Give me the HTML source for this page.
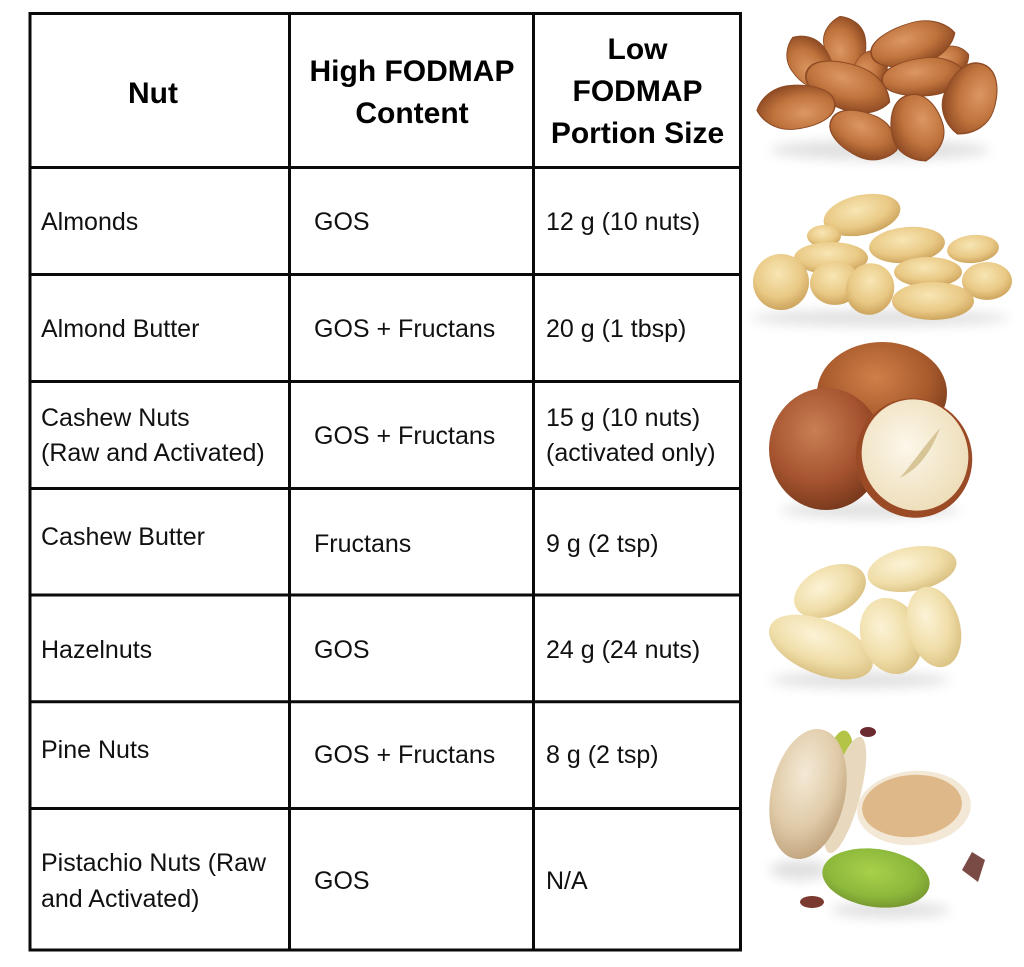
<!DOCTYPE html>
<html>
<head>
<meta charset="utf-8">
<style>
  html, body { margin:0; padding:0; background:#ffffff; }
  body { width:1024px; height:967px; position:relative; overflow:hidden;
         font-family:"Liberation Sans", sans-serif; }
  .h { position:absolute; font-weight:bold; font-size:30px; line-height:41px;
       color:#000; text-align:center; white-space:nowrap; }
  .t { position:absolute; font-size:25px; line-height:35px; color:#111;
       white-space:nowrap; }
  svg { position:absolute; left:0; top:0; }
</style>
</head>
<body>
<svg width="1024" height="967" viewBox="0 0 1024 967">
  <defs>
    <radialGradient id="almondG" cx="40%" cy="35%" r="70%">
      <stop offset="0" stop-color="#dc9763"/>
      <stop offset="0.55" stop-color="#c0743d"/>
      <stop offset="1" stop-color="#8a4621"/>
    </radialGradient>
    <radialGradient id="cashewG" cx="45%" cy="35%" r="70%">
      <stop offset="0" stop-color="#f8e6b4"/>
      <stop offset="0.6" stop-color="#e9c985"/>
      <stop offset="1" stop-color="#c79d55"/>
    </radialGradient>
    <radialGradient id="shellG" cx="45%" cy="35%" r="70%">
      <stop offset="0" stop-color="#cf8048"/>
      <stop offset="0.6" stop-color="#a85a2c"/>
      <stop offset="1" stop-color="#6e3518"/>
    </radialGradient>
    <radialGradient id="skinG" cx="40%" cy="35%" r="70%">
      <stop offset="0" stop-color="#c98055"/>
      <stop offset="0.6" stop-color="#a4532e"/>
      <stop offset="1" stop-color="#74361b"/>
    </radialGradient>
    <radialGradient id="kernelG" cx="45%" cy="40%" r="65%">
      <stop offset="0" stop-color="#fcf7ea"/>
      <stop offset="1" stop-color="#eddcb6"/>
    </radialGradient>
    <radialGradient id="pineG" cx="40%" cy="35%" r="70%">
      <stop offset="0" stop-color="#fcf3d6"/>
      <stop offset="0.6" stop-color="#f0dea9"/>
      <stop offset="1" stop-color="#d9bf80"/>
    </radialGradient>
    <radialGradient id="pistG" cx="40%" cy="35%" r="70%">
      <stop offset="0" stop-color="#f4e9d6"/>
      <stop offset="0.6" stop-color="#e0cba8"/>
      <stop offset="1" stop-color="#bfa27c"/>
    </radialGradient>
    <radialGradient id="greenG" cx="45%" cy="40%" r="70%">
      <stop offset="0" stop-color="#a8d04a"/>
      <stop offset="0.6" stop-color="#8cb83b"/>
      <stop offset="1" stop-color="#6e8a2c"/>
    </radialGradient>
    <filter id="blur" x="-50%" y="-50%" width="200%" height="200%">
      <feGaussianBlur stdDeviation="6"/>
    </filter>
    <path id="alm" d="M-1,0 C-1,-0.72 -0.35,-1 0.1,-1 C0.6,-1 0.9,-0.45 1,0 C0.9,0.45 0.6,1 0.1,1 C-0.35,1 -1,0.72 -1,0Z"/>
  </defs>

  <!-- Table lines -->
  <g stroke="#0a0a0a" stroke-width="3" fill="none">
    <rect x="30" y="13.5" width="710.5" height="936.5"/>
    <line x1="289.5" y1="13.5" x2="289.5" y2="950"/>
    <line x1="533.5" y1="13.5" x2="533.5" y2="950"/>
    <line x1="30" y1="167.5" x2="740.5" y2="167.5"/>
    <line x1="30" y1="274.5" x2="740.5" y2="274.5"/>
    <line x1="30" y1="381.5" x2="740.5" y2="381.5"/>
    <line x1="30" y1="488.5" x2="740.5" y2="488.5"/>
    <line x1="30" y1="595" x2="740.5" y2="595"/>
    <line x1="30" y1="701.7" x2="740.5" y2="701.7"/>
    <line x1="30" y1="808.5" x2="740.5" y2="808.5"/>
  </g>

  <!-- shadows -->
  <g fill="#000" opacity="0.12" filter="url(#blur)">
    <ellipse cx="880" cy="150" rx="110" ry="10"/>
    <ellipse cx="880" cy="318" rx="130" ry="8"/>
    <ellipse cx="870" cy="510" rx="90" ry="8"/>
    <ellipse cx="860" cy="680" rx="90" ry="8"/>
    <ellipse cx="800" cy="870" rx="30" ry="10"/>
    <ellipse cx="890" cy="910" rx="60" ry="8"/>
  </g>

  <!-- Almonds -->
  <g fill="url(#almondG)" stroke="#8d4a24" stroke-width="0.04">
    <use href="#alm" transform="translate(845,44) rotate(-100) scale(28,21)"/>
    <use href="#alm" transform="translate(870,70) rotate(-60) scale(22,16)"/>
    <use href="#alm" transform="translate(810,62) rotate(-125) scale(30,20)"/>
    <use href="#alm" transform="translate(948,62) rotate(-20) scale(22,15)"/>
    <use href="#alm" transform="translate(913,44) rotate(-15) scale(43,21)"/>
    <use href="#alm" transform="translate(924,77) rotate(-5) scale(42,19)"/>
    <use href="#alm" transform="translate(970,99) rotate(110) scale(37,26)"/>
    <use href="#alm" transform="translate(848,87) rotate(20) scale(44,23)"/>
    <use href="#alm" transform="translate(796,107) rotate(175) scale(39,22)"/>
    <use href="#alm" transform="translate(864,135) rotate(25) scale(36,22)"/>
    <use href="#alm" transform="translate(917,128) rotate(75) scale(34,26)"/>
  </g>

  <!-- Cashews -->
  <g fill="url(#cashewG)">
    <ellipse cx="862" cy="215" rx="39" ry="20" transform="rotate(-12 862 215)"/>
    <ellipse cx="824" cy="236" rx="17" ry="11"/>
    <ellipse cx="907" cy="245" rx="38" ry="18" transform="rotate(-5 907 245)"/>
    <ellipse cx="973" cy="249" rx="26" ry="14" transform="rotate(-5 973 249)"/>
    <ellipse cx="831" cy="258" rx="37" ry="16"/>
    <ellipse cx="928" cy="272" rx="34" ry="15"/>
    <ellipse cx="987" cy="281" rx="25" ry="19"/>
    <ellipse cx="781" cy="282" rx="28" ry="28"/>
    <ellipse cx="835" cy="283" rx="25" ry="22"/>
    <ellipse cx="870" cy="289" rx="24" ry="26" transform="rotate(20 870 289)"/>
    <ellipse cx="933" cy="301" rx="41" ry="19"/>
  </g>

  <!-- Hazelnuts -->
  <ellipse cx="882" cy="393" rx="65" ry="51" fill="url(#shellG)"/>
  <ellipse cx="826" cy="449" rx="57" ry="61" fill="url(#skinG)"/>
  <ellipse cx="914" cy="458" rx="58" ry="60" transform="rotate(-20 914 458)" fill="#9b4a26"/>
  <ellipse cx="915" cy="455" rx="53" ry="56" transform="rotate(-20 915 455)" fill="url(#kernelG)"/>
  <path d="M900,478 C915,460 925,445 940,428 C932,450 920,468 900,478Z" fill="#d7c597"/>

  <!-- Pine nuts -->
  <g fill="url(#pineG)">
    <ellipse cx="830" cy="591" rx="38" ry="24" transform="rotate(-25 830 591)"/>
    <ellipse cx="912" cy="569" rx="45" ry="22" transform="rotate(-10 912 569)"/>
    <ellipse cx="821" cy="647" rx="55" ry="27" transform="rotate(22 821 647)"/>
    <ellipse cx="891" cy="636" rx="30" ry="39" transform="rotate(-20 891 636)"/>
    <ellipse cx="934" cy="627" rx="26" ry="41" transform="rotate(-15 934 627)"/>
  </g>

  <!-- Pistachios -->
  <ellipse cx="838" cy="770" rx="14" ry="40" transform="rotate(10 838 770)" fill="#b3c447"/>
  <ellipse cx="845" cy="795" rx="15" ry="60" transform="rotate(15 845 795)" fill="#e8d8bd"/>
  <ellipse cx="808" cy="794" rx="37" ry="66" transform="rotate(12 808 794)" fill="url(#pistG)"/>
  <ellipse cx="914" cy="808" rx="57" ry="37" transform="rotate(-5 914 808)" fill="#f3e8d5"/>
  <ellipse cx="912" cy="806" rx="50" ry="31" transform="rotate(-5 912 806)" fill="#dfb889"/>
  <ellipse cx="876" cy="878" rx="54" ry="29" transform="rotate(8 876 878)" fill="url(#greenG)"/>
  <ellipse cx="868" cy="732" rx="8" ry="5" fill="#6b2a30"/>
  <path d="M962,870 L972,852 L985,860 L978,882 Z" fill="#7a4a45"/>
  <ellipse cx="812" cy="902" rx="12" ry="6" fill="#7a3a30"/>
</svg>

<!-- Header -->
<div class="h" style="left:30px; width:246px; top:73px;">Nut</div>
<div class="h" style="left:290px; width:244px; top:51px;">High FODMAP</div>
<div class="h" style="left:290px; width:244px; top:93px;">Content</div>
<div class="h" style="left:534px; width:207px; top:29px;">Low</div>
<div class="h" style="left:534px; width:207px; top:71px;">FODMAP</div>
<div class="h" style="left:534px; width:207px; top:113px;">Portion Size</div>

<!-- Row 1 -->
<div class="t" style="left:41px; top:205px;">Almonds</div>
<div class="t" style="left:314px; top:205px;">GOS</div>
<div class="t" style="left:546px; top:205px;">12 g (10 nuts)</div>

<!-- Row 2 -->
<div class="t" style="left:41px; top:312px;">Almond Butter</div>
<div class="t" style="left:314px; top:312px;">GOS + Fructans</div>
<div class="t" style="left:546px; top:312px;">20 g (1 tbsp)</div>

<!-- Row 3 -->
<div class="t" style="left:41px; top:401px;">Cashew Nuts</div>
<div class="t" style="left:41px; top:436px;">(Raw and Activated)</div>
<div class="t" style="left:314px; top:419px;">GOS + Fructans</div>
<div class="t" style="left:546px; top:401px;">15 g (10 nuts)</div>
<div class="t" style="left:546px; top:436px;">(activated only)</div>

<!-- Row 4 -->
<div class="t" style="left:41px; top:520px;">Cashew Butter</div>
<div class="t" style="left:314px; top:527px;">Fructans</div>
<div class="t" style="left:546px; top:527px;">9 g (2 tsp)</div>

<!-- Row 5 -->
<div class="t" style="left:41px; top:633px;">Hazelnuts</div>
<div class="t" style="left:314px; top:633px;">GOS</div>
<div class="t" style="left:546px; top:633px;">24 g (24 nuts)</div>

<!-- Row 6 -->
<div class="t" style="left:41px; top:733px;">Pine Nuts</div>
<div class="t" style="left:314px; top:738px;">GOS + Fructans</div>
<div class="t" style="left:546px; top:738px;">8 g (2 tsp)</div>

<!-- Row 7 -->
<div class="t" style="left:41px; top:846px;">Pistachio Nuts (Raw</div>
<div class="t" style="left:41px; top:882px;">and Activated)</div>
<div class="t" style="left:314px; top:864px;">GOS</div>
<div class="t" style="left:546px; top:864px;">N/A</div>
</body>
</html>
